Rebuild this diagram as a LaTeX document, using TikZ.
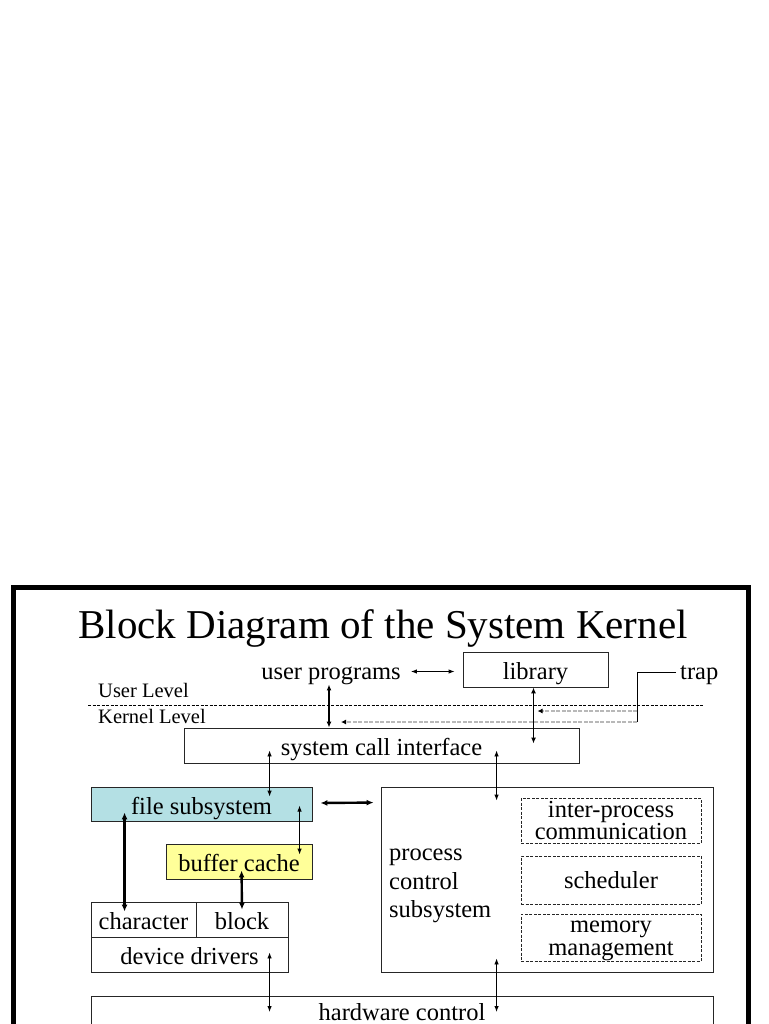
\documentclass[tikz,border=0pt]{standalone}
\usepackage{fontspec}
\setmainfont{Liberation Serif}
\usetikzlibrary{arrows.meta,calc}
\begin{document}
\begin{tikzpicture}[x=1pt,y=-1pt,
  txt/.style={font=\fontsize{24.5}{28}\selectfont, inner sep=0pt},
  box/.style={draw=black!85, line width=0.9pt, inner sep=0pt, text height=21pt, text depth=1pt, font=\fontsize{24.5}{28}\selectfont},
  dbox/.style={draw=black!85, line width=0.9pt, dash pattern=on 3pt off 1.5pt, inner sep=0pt, align=center},
  thinarrow/.style={line width=0.9pt, {Latex[length=6pt,width=4.5pt]}-{Latex[length=6pt,width=4.5pt]}},
  midarrow/.style={line width=1.8pt, {Latex[length=6pt,width=5pt]}-{Latex[length=6pt,width=5pt]}},
  thickarrow/.style={line width=2.4pt, {Latex[length=7pt,width=6pt]}-{Latex[length=7pt,width=6pt]}},
  grayarrow/.style={line width=2.5pt, draw=black!28, dash pattern=on 4pt off 1.5pt, -{Latex[length=5pt,width=5pt,black]}},
]
\useasboundingbox (0,0) rectangle (768,1024);
\fill[white] (0,0) rectangle (768,1024);
% frame
\draw[line width=5pt] (13.5,587.5) rectangle (748.5,1045);
% title
\node[font=\fontsize{41}{48}\selectfont, inner sep=0pt, anchor=base] (title) at (383,638) {Block Diagram of the System Kernel};
% user level
\node[txt, anchor=base] (up) at (331,679) {user programs};
\node[box, minimum width=145pt, minimum height=35pt] (lib) at (535.5,669.5) {library};
\node[txt, anchor=base west] (trap) at (680,679) {trap};
\node[font=\fontsize{20.5}{24}\selectfont, inner sep=0pt, anchor=base west] (ul) at (98,697) {User Level};
\node[font=\fontsize{20.5}{24}\selectfont, inner sep=0pt, anchor=base west] (kl) at (98,723) {Kernel Level};
\draw[line width=0.9pt, dash pattern=on 3pt off 1.5pt] (88,705) -- (703,705);
% kernel boxes
\node[box, minimum width=395pt, minimum height=35pt] (sci) at (381.5,745.5) {system call interface};
\node[box, fill={rgb,255:red,180;green,224;blue,228}, minimum width=221pt, minimum height=34pt] (fs) at (201.5,804) {file subsystem};
\node[box, fill={rgb,255:red,255;green,255;blue,153}, minimum width=146pt, minimum height=35pt] (bc) at (239,861.5) {buffer cache};
\node[box, minimum width=105pt, minimum height=35pt] (ch) at (143.5,919.5) {character};
\node[box, minimum width=92pt, minimum height=35pt] (bl) at (242,919.5) {block};
\node[box, minimum width=197pt, minimum height=35pt] (dd) at (189.5,954.5) {device drivers};
\node[box, minimum width=332pt, minimum height=185pt] (pc) at (547,879.5) {};
\node[font=\fontsize{24.5}{28.5}\selectfont, inner sep=0pt, align=left, anchor=west] (pcs) at (389,886) {process\\control\\subsystem};
\node[dbox, minimum width=180pt, minimum height=45pt, font=\fontsize{24.5}{21}\selectfont] (ipc) at (611,820.5) {inter-process\\communication};
\node[dbox, minimum width=180pt, minimum height=48pt, font=\fontsize{24.5}{28}\selectfont] (sch) at (611,880) {scheduler};
\node[dbox, minimum width=180pt, minimum height=47pt] (mem) at (611,937.5) {};
\node[font=\fontsize{24.5}{23}\selectfont, inner sep=0pt, align=center] (memt) at (611,940.5) {memory\\management};
\node[draw=black!85, line width=0.9pt, minimum width=622pt, minimum height=50pt, inner sep=0pt, anchor=north] (hw) at (402,996) {};
\node[txt, anchor=base] (hwt) at (402,1020) {hardware control};
% connectors
\draw[thinarrow] ($(up.east |- lib.west)+(10,2)$) -- ($(lib.west)+(-8,2)$);
\draw[midarrow] ($(up.south)+(-2,0)$) -- ($(up.south |- sci.north)+(-2,0)$);
\draw[midarrow] ($(lib.south)+(-2,0)$) -- ($(lib.south |- sci.center)+(-2,-2)$);
\coordinate (trapl) at (637,722);
\coordinate (trapu) at (637,711);
\draw[line width=0.9pt] ($(trap.west)+(-4,-2)$) -| (trapl);
\draw[grayarrow] (trapl) -- ($(trapl -| up.south)+(10,0)$);
\draw[grayarrow] (trapu) -- ($(trapu -| lib.south)+(2,0)$);
\draw[thinarrow] ($(sci.south west)+(86,-13)$) -- ($(fs.north west)+(179,10)$);
\draw[thinarrow] ($(sci.south west)+(313,-13)$) -- ($(pc.north west)+(116,14)$);
\draw[thickarrow] ($(fs.east)+(8,-1)$) -- ($(pc.north west)+(-7,16)$);
\draw[thinarrow] ($(fs.north west)+(209,19)$) -- ($(bc.north west)+(134,11)$);
\draw[thickarrow] ($(fs.south west)+(34,-9)$) -- ($(ch.north west)+(34,10)$);
\draw[thickarrow] ($(bc.south west)+(76,-9)$) -- ($(bl.north)+(0,8)$);
\draw[thinarrow] ($(dd.south west)+(179,-20)$) -- ($(hw.north west)+(179,16)$);
\draw[thinarrow] ($(pc.south west)+(116,-14)$) -- ($(hw.north west)+(406,16)$);
\end{tikzpicture}
\end{document}
